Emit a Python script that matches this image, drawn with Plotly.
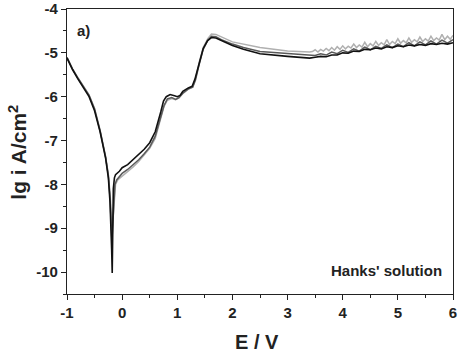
import plotly.graph_objects as go

# Black curve
E_black = [-1.0,-0.9,-0.8,-0.7,-0.6,-0.5,-0.4,-0.3,-0.25,-0.22,-0.2,-0.19,-0.18,-0.17,-0.16,-0.14,-0.12,-0.05,0.0,0.1,0.2,0.3,0.4,0.5,0.6,0.7,0.75,0.8,0.87,0.95,1.0,1.05,1.1,1.2,1.27,1.32,1.4,1.47,1.55,1.62,1.7,1.8,2.0,2.2,2.5,3.0,3.4,
           3.5,3.6,3.7,3.8,3.9,4.0,4.1,4.2,4.3,4.4,4.5,4.6,4.7,4.8,4.9,5.0,5.1,5.2,5.3,5.4,5.5,5.6,5.7,5.8,5.9,6.0]
I_black = [-5.12,-5.38,-5.6,-5.79,-6.0,-6.32,-6.8,-7.4,-7.85,-8.4,-9.0,-9.5,-10.02,-8.6,-8.1,-7.85,-7.78,-7.7,-7.62,-7.55,-7.44,-7.33,-7.2,-7.05,-6.8,-6.35,-6.1,-6.0,-5.95,-5.98,-6.0,-5.97,-5.88,-5.8,-5.76,-5.6,-5.2,-4.9,-4.72,-4.65,-4.66,-4.72,-4.83,-4.92,-5.02,-5.08,-5.12,
           -5.10,-5.08,-5.09,-5.05,-5.05,-5.00,-5.01,-4.96,-4.97,-4.92,-4.93,-4.89,-4.91,-4.86,-4.88,-4.84,-4.86,-4.82,-4.84,-4.81,-4.83,-4.79,-4.81,-4.78,-4.80,-4.77]

# Dark gray curve
E_dark = [-1.0,-0.9,-0.8,-0.7,-0.6,-0.5,-0.4,-0.3,-0.25,-0.22,-0.2,-0.185,-0.17,-0.16,-0.15,-0.13,-0.1,-0.05,0.0,0.1,0.2,0.3,0.4,0.5,0.6,0.7,0.76,0.82,0.9,0.97,1.03,1.1,1.2,1.28,1.33,1.4,1.47,1.55,1.62,1.7,1.8,2.0,2.2,2.5,3.0,3.4,
          3.5,3.6,3.7,3.8,3.9,4.0,4.1,4.2,4.3,4.4,4.5,4.6,4.7,4.8,4.9,5.0,5.1,5.2,5.3,5.4,5.5,5.6,5.7,5.8,5.9,6.0]
I_dark = [-5.1,-5.37,-5.58,-5.77,-5.97,-6.28,-6.78,-7.38,-7.8,-8.3,-8.8,-9.3,-8.9,-8.6,-8.2,-8.0,-7.9,-7.82,-7.75,-7.66,-7.55,-7.44,-7.3,-7.15,-6.9,-6.45,-6.2,-6.05,-6.02,-6.06,-6.02,-5.92,-5.82,-5.78,-5.62,-5.25,-4.92,-4.72,-4.62,-4.63,-4.7,-4.8,-4.88,-4.97,-5.02,-5.05,
          -5.06,-5.02,-5.05,-4.98,-5.02,-4.94,-4.99,-4.91,-4.96,-4.87,-4.93,-4.85,-4.90,-4.82,-4.88,-4.80,-4.86,-4.77,-4.84,-4.75,-4.82,-4.73,-4.80,-4.71,-4.78,-4.70]

# Light gray curve
E_light = [-1.0,-0.9,-0.8,-0.7,-0.6,-0.5,-0.4,-0.3,-0.25,-0.22,-0.2,-0.18,-0.16,-0.14,-0.12,-0.08,-0.03,0.0,0.1,0.2,0.3,0.4,0.5,0.6,0.7,0.76,0.82,0.9,0.97,1.03,1.1,1.2,1.28,1.33,1.4,1.47,1.55,1.62,1.7,1.8,2.0,2.5,3.0,3.4,
           3.45,3.5,3.55,3.6,3.65,3.7,3.75,3.8,3.85,3.9,3.95,4.0,4.05,4.1,4.15,4.2,4.25,4.3,4.35,4.4,4.45,4.5,4.55,4.6,4.65,4.7,4.75,4.8,4.85,4.9,4.95,5.0,
           5.05,5.1,5.15,5.2,5.25,5.3,5.35,5.4,5.45,5.5,5.55,5.6,5.65,5.7,5.75,5.8,5.85,5.9,5.95,6.0]
I_light = [-5.11,-5.36,-5.57,-5.76,-5.96,-6.27,-6.76,-7.36,-7.78,-8.2,-8.6,-9.0,-8.7,-8.3,-8.0,-7.9,-7.85,-7.8,-7.7,-7.6,-7.48,-7.34,-7.18,-6.95,-6.5,-6.22,-6.08,-6.04,-6.07,-6.03,-5.93,-5.83,-5.78,-5.6,-5.2,-4.88,-4.68,-4.57,-4.58,-4.64,-4.75,-4.88,-4.96,-4.98,
           -4.97,-4.93,-4.98,-4.92,-4.96,-4.90,-4.95,-4.88,-4.94,-4.86,-4.92,-4.84,-4.91,-4.85,-4.89,-4.80,-4.88,-4.82,-4.87,-4.76,-4.86,-4.79,-4.84,-4.74,-4.83,-4.77,-4.82,-4.70,-4.81,-4.74,-4.79,-4.68,
           -4.78,-4.72,-4.77,-4.66,-4.76,-4.70,-4.75,-4.64,-4.74,-4.68,-4.73,-4.62,-4.72,-4.66,-4.71,-4.58,-4.70,-4.62,-4.69,-4.60]

# Tick labels (hyphen-minus as in the original)
x_ticks = [-1, 0, 1, 2, 3, 4, 5, 6]
x_labels = ["-1", "0", "1", "2", "3", "4", "5", "6"]
y_ticks = [-10, -9, -8, -7, -6, -5, -4]
y_labels = ["-10", "-9", "-8", "-7", "-6", "-5", "-4"]

FONT = "Liberation Sans, Arial, sans-serif"

fig = go.Figure()
fig.add_trace(go.Scatter(x=E_light, y=I_light, mode="lines", line=dict(color="#b0b0b0", width=1.5), showlegend=False))
fig.add_trace(go.Scatter(x=E_dark, y=I_dark, mode="lines", line=dict(color="#5a5a5a", width=1.5), showlegend=False))
fig.add_trace(go.Scatter(x=E_black, y=I_black, mode="lines", line=dict(color="#111111", width=1.6), showlegend=False))

axis_common = dict(
    showgrid=False, zeroline=False, showline=True, linecolor="#222", linewidth=1.2,
    mirror=True, ticks="outside", ticklen=5, tickwidth=1.2, tickcolor="#222", automargin=False,
    tickfont=dict(family=FONT, size=15, color="#222", weight="bold"),
)
fig.update_layout(
    width=474, height=353,
    margin=dict(l=67, r=21, t=9, b=59),
    paper_bgcolor="white", plot_bgcolor="white",
    xaxis=dict(range=[-1, 6], tickmode="array", tickvals=x_ticks, ticktext=x_labels,
               minor=dict(ticks="outside", ticklen=3, dtick=0.5, tick0=-1, tickcolor="#222", tickwidth=1),
               **axis_common),
    yaxis=dict(range=[-10.5, -4], tickmode="array", tickvals=y_ticks, ticktext=y_labels,
               minor=dict(ticks="outside", ticklen=3, dtick=0.5, tick0=-10, tickcolor="#222", tickwidth=1),
               **axis_common),
    annotations=[
        dict(x=0.492, y=-0.168, xref="paper", yref="paper", text="E / V", showarrow=False,
             xanchor="center", yanchor="middle",
             font=dict(family=FONT, size=20, color="#222", weight="bold")),
        dict(x=-0.128, y=0.498, xref="paper", yref="paper", text="lg i A/cm<sup>2</sup>", showarrow=False,
             textangle=-90, xanchor="center", yanchor="middle",
             font=dict(family=FONT, size=21, color="#222", weight="bold")),
        dict(x=-0.86, y=-4.5, xref="x", yref="y", text="a)", showarrow=False, xanchor="left",
             font=dict(family=FONT, size=15, color="#222", weight="bold")),
        dict(x=5.83, y=-9.97, xref="x", yref="y", text="Hanks' solution", showarrow=False, xanchor="right",
             font=dict(family=FONT, size=15, color="#222", weight="bold")),
    ],
)
fig.write_html("out.html")
